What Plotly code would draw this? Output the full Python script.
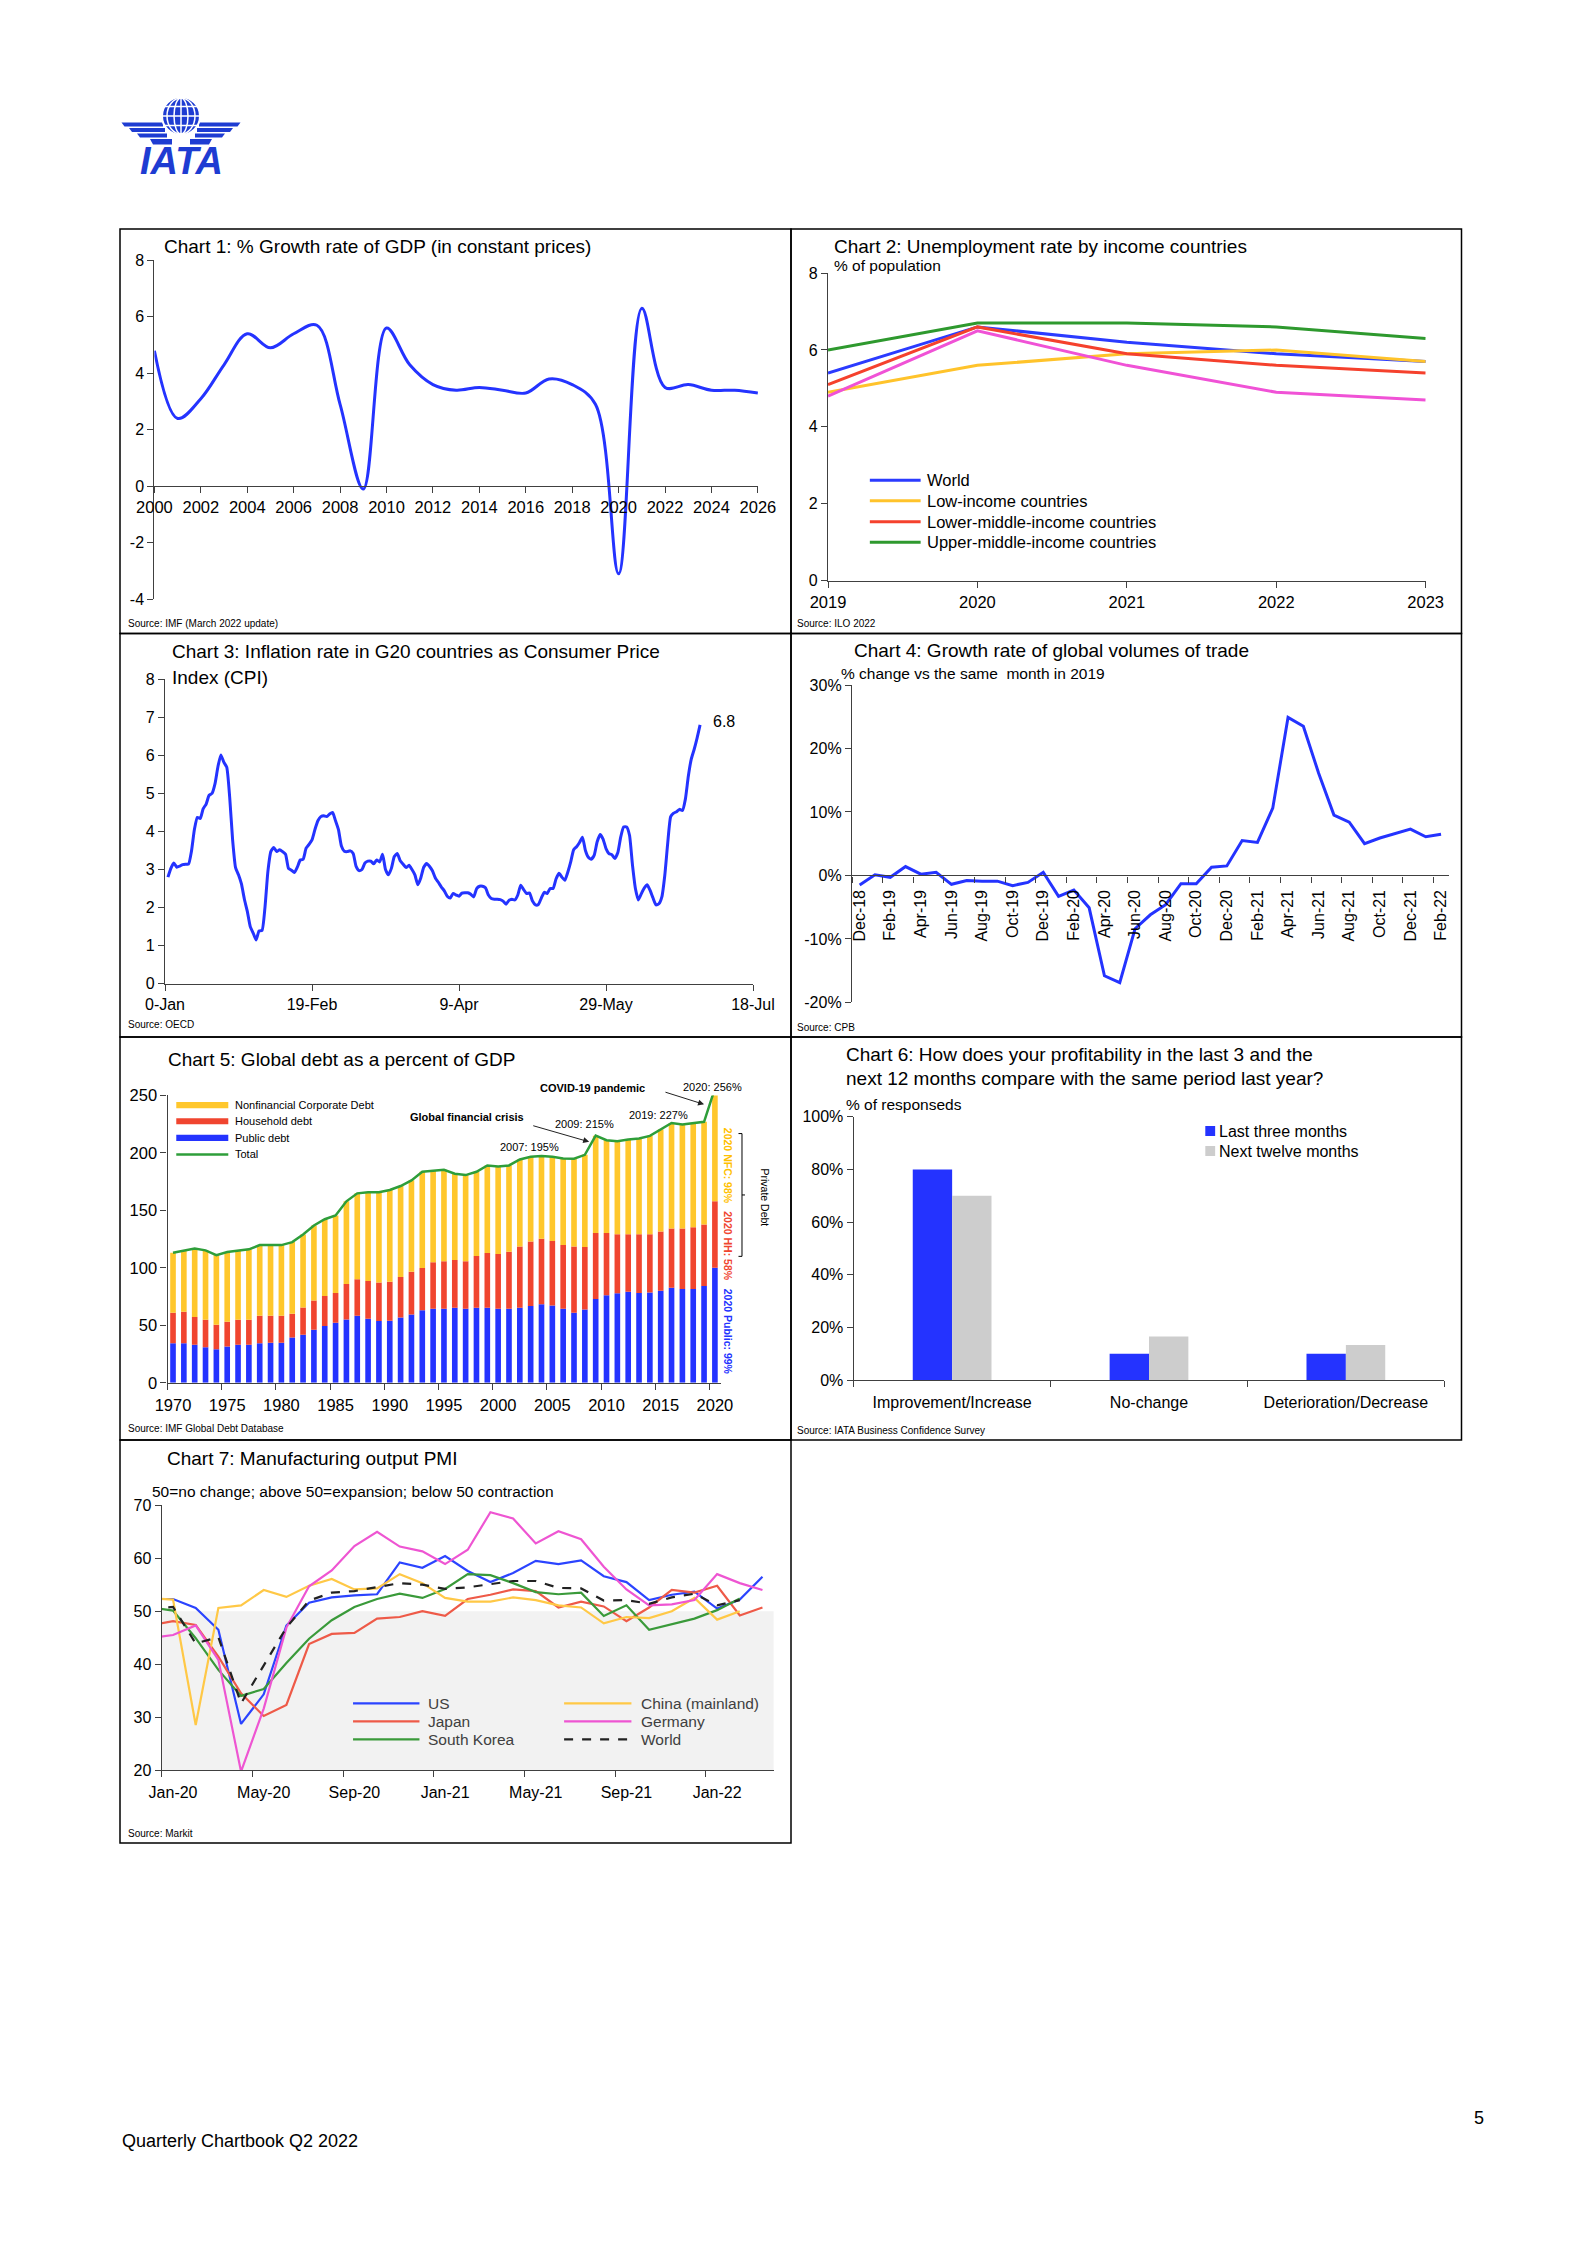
import plotly.graph_objects as go

W, H = 1587, 2245
OFF = 8  # default body margin of the html page
FW, FH = W - 2 * OFF, H - 2 * OFF
FONT = "Liberation Sans, Arial, Helvetica, sans-serif"
BLUE = "#2433FF"
LOGO_BLUE = "#1E3CD2"
AXC = "#404040"

# ---------------- data ----------------
gdp_years = list(range(2000, 2027))
gdp_growth = [4.8, 2.4, 3.1, 4.3, 5.4, 4.9, 5.4, 5.7, 2.9, -0.1, 5.6, 4.3, 3.6, 3.4, 3.5,
              3.4, 3.3, 3.8, 3.6, 2.9, -3.1, 6.3, 3.5, 3.6, 3.4, 3.4, 3.3]
gdp_tick_years = list(range(2000, 2027, 2))
gdp_y_ticks = [-4, -2, 0, 2, 4, 6, 8]
gdp_y_text = ["-4", "-2", "0", "2", "4", "6", "8"]

unemp_years = [2019, 2020, 2021, 2022, 2023]
unemp_world = [5.4, 6.6, 6.2, 5.9, 5.7]
unemp_low = [4.9, 5.6, 5.9, 6.0, 5.7]
unemp_lower_mid = [5.1, 6.6, 5.9, 5.6, 5.4]
unemp_upper_mid = [6.0, 6.7, 6.7, 6.6, 6.3]
unemp_high = [4.8, 6.5, 5.6, 4.9, 4.7]

cpi_values = [
    2.80, 3.03, 3.17, 3.06, 3.09, 3.13, 3.14, 3.14, 3.48, 4.05,
    4.37, 4.34, 4.60, 4.72, 4.95, 5.00, 5.25, 5.70, 6.01, 5.82,
    5.69, 4.90, 3.78, 3.05, 2.86, 2.62, 2.22, 1.90, 1.50, 1.33,
    1.15, 1.39, 1.40, 2.00, 2.95, 3.47, 3.58, 3.47, 3.52, 3.47,
    3.40, 3.03, 2.98, 2.92, 3.06, 3.25, 3.27, 3.56, 3.66, 3.78,
    4.05, 4.28, 4.39, 4.41, 4.39, 4.46, 4.50, 4.28, 4.05, 3.62,
    3.48, 3.47, 3.49, 3.42, 3.08, 2.97, 3.00, 3.17, 3.22, 3.22,
    3.15, 3.25, 3.20, 3.40, 3.00, 2.86, 3.03, 3.34, 3.42, 3.23,
    3.14, 3.05, 3.11, 3.00, 2.86, 2.60, 2.78, 3.06, 3.16, 3.08,
    2.96, 2.77, 2.66, 2.54, 2.44, 2.30, 2.25, 2.37, 2.33, 2.30,
    2.38, 2.39, 2.39, 2.35, 2.28, 2.50, 2.56, 2.56, 2.52, 2.33,
    2.24, 2.22, 2.22, 2.21, 2.17, 2.09, 2.19, 2.22, 2.20, 2.33,
    2.59, 2.47, 2.37, 2.38, 2.17, 2.07, 2.08, 2.25, 2.40, 2.37,
    2.50, 2.50, 2.75, 2.90, 2.80, 2.72, 2.93, 3.20, 3.52, 3.60,
    3.71, 3.85, 3.50, 3.32, 3.27, 3.38, 3.73, 3.92, 3.80, 3.55,
    3.42, 3.39, 3.29, 3.44, 3.85, 4.12, 4.12, 3.90, 3.12, 2.50,
    2.20, 2.36, 2.51, 2.60, 2.45, 2.25, 2.07, 2.10, 2.28, 2.85,
    3.70, 4.39, 4.48, 4.52, 4.58, 4.55, 4.85, 5.45, 5.90, 6.16,
    6.46, 6.80]
cpi_tick_vals = [0, 50, 100, 150, 200]
cpi_tick_text = ["0-Jan", "19-Feb", "9-Apr", "29-May", "18-Jul"]

trade_months = ["Dec-18", "Jan-19", "Feb-19", "Mar-19", "Apr-19", "May-19", "Jun-19", "Jul-19",
                "Aug-19", "Sep-19", "Oct-19", "Nov-19", "Dec-19", "Jan-20", "Feb-20", "Mar-20",
                "Apr-20", "May-20", "Jun-20", "Jul-20", "Aug-20", "Sep-20", "Oct-20", "Nov-20",
                "Dec-20", "Jan-21", "Feb-21", "Mar-21", "Apr-21", "May-21", "Jun-21", "Jul-21",
                "Aug-21", "Sep-21", "Oct-21", "Nov-21", "Dec-21", "Jan-22", "Feb-22"]
trade_growth = [-1.5, 0.1, -0.3, 1.4, 0.2, 0.5, -1.4, -0.8, -0.9, -0.9, -1.6, -1.1, 0.5,
                -3.3, -2.3, -5.1, -15.8, -16.9, -8.4, -6.2, -4.6, -1.3, -1.3, 1.3, 1.5,
                5.5, 5.2, 10.6, 24.9, 23.5, 16.1, 9.5, 8.4, 5.0, 5.9, 6.6, 7.3, 6.1, 6.5]
trade_y_ticks = [-20, -10, 0, 10, 20, 30]
trade_y_text = ["-20%", "-10%", "0%", "10%", "20%", "30%"]

debt_years = list(range(1970, 2021))
public_debt = [34.4, 34.4, 33.2, 30.9, 29.2, 31.5, 33.2, 33.2, 34.4, 34.9,
               34.9, 39.3, 41.9, 46.2, 49.4, 52.3, 55.1, 58.3, 55.7, 53.7,
               54.0, 56.9, 59.5, 63.2, 64.4, 64.4, 65.2, 64.4, 65.2, 65.2,
               64.4, 64.4, 65.2, 66.7, 68.4, 67.3, 64.4, 60.9, 63.8, 73.0,
               76.2, 77.9, 79.1, 78.2, 78.5, 80.0, 82.6, 81.7, 81.7, 84.3, 100.0]
household_debt = [26.5, 27.4, 24.0, 23.9, 21.3, 21.6, 21.6, 21.6, 23.9, 23.4,
                  23.4, 20.7, 23.6, 25.4, 26.2, 25.9, 30.9, 31.8, 32.9, 33.5,
                  34.0, 35.2, 37.2, 36.7, 40.4, 41.3, 41.6, 41.3, 45.1, 47.7,
                  47.6, 49.6, 53.4, 56.3, 56.9, 56.0, 55.4, 57.7, 54.3, 57.2,
                  54.0, 51.4, 50.2, 51.1, 50.8, 51.6, 51.6, 52.5, 53.7, 53.4, 58.0]
corporate_debt = [52.3, 53.4, 59.7, 60.4, 60.6, 60.6, 60.1, 61.3, 61.5, 61.5,
                  61.5, 62.4, 63.5, 65.2, 66.7, 67.3, 71.9, 74.7, 77.1, 78.5,
                  79.7, 79.1, 79.4, 83.7, 79.4, 79.6, 75.1, 75.0, 73.3, 76.2,
                  76.2, 75.1, 75.7, 73.6, 71.9, 73.3, 75.4, 76.4, 80.2, 84.8,
                  80.8, 80.9, 82.3, 83.2, 85.5, 88.7, 91.8, 90.4, 90.1, 89.3, 98.0]
debt_tick_years = list(range(1970, 2021, 5))

profit_categories = ["Improvement/Increase", "No-change", "Deterioration/Decrease"]
profit_last3 = [80, 10, 10]
profit_next12 = [70, 16.5, 13.3]
profit_y_ticks = [0, 20, 40, 60, 80, 100]
profit_y_text = ["0%", "20%", "40%", "60%", "80%", "100%"]

pmi_months = ["Dec-19", "Jan-20", "Feb-20", "Mar-20", "Apr-20", "May-20", "Jun-20", "Jul-20",
              "Aug-20", "Sep-20", "Oct-20", "Nov-20", "Dec-20", "Jan-21", "Feb-21", "Mar-21",
              "Apr-21", "May-21", "Jun-21", "Jul-21", "Aug-21", "Sep-21", "Oct-21", "Nov-21",
              "Dec-21", "Jan-22", "Feb-22", "Mar-22"]
pmi_us = [52.3, 52.3, 50.6, 46.5, 28.7, 34.3, 47.3, 51.6, 52.6, 53.0, 53.2, 59.2, 58.2,
          60.4, 57.6, 55.5, 57.2, 59.5, 58.9, 59.6, 56.6, 55.5, 52.1, 53.1, 53.7, 50.5, 52.2, 56.5]
pmi_china = [52.4, 52.2, 28.5, 50.6, 51.1, 54.0, 52.7, 54.8, 56.1, 54.1, 54.3, 57.0, 55.3,
             52.5, 51.8, 51.8, 52.6, 52.1, 51.1, 50.7, 47.7, 48.9, 48.7, 50.0, 52.5, 48.4, 50.0, None]
pmi_japan = [47.3, 48.1, 47.4, 41.4, 34.5, 30.2, 32.3, 43.8, 45.7, 45.9, 48.6, 48.9, 50.0,
             49.1, 52.3, 53.1, 54.1, 53.8, 50.7, 51.8, 50.9, 48.1, 50.7, 54.0, 53.5, 54.8, 49.2, 50.7]
pmi_germany = [44.9, 45.5, 47.3, 40.8, 19.7, 31.6, 46.9, 54.7, 57.7, 62.3, 65.0, 62.2, 61.3,
               58.9, 61.6, 68.7, 67.5, 62.8, 65.1, 63.6, 58.4, 54.1, 51.1, 51.3, 52.1, 57.0, 55.3, 54.0]
pmi_korea = [50.7, 50.1, 44.9, 38.9, 34.0, 35.3, 40.2, 44.8, 48.3, 50.8, 52.3, 53.3, 52.5,
             54.2, 57.0, 56.8, 55.3, 53.6, 53.2, 53.5, 49.1, 51.1, 46.5, 47.5, 48.6, 50.2, 52.4, None]
pmi_world = [50.4, 50.8, 43.9, 45.1, 32.6, 39.8, 46.9, 52.0, 53.5, 53.8, 54.5, 55.3, 55.0,
             54.2, 54.5, 55.1, 55.7, 55.7, 54.4, 54.3, 52.0, 52.1, 51.4, 52.6, 53.3, 51.1, 52.1, None]
pmi_tick_labels = ["Jan-20", "May-20", "Sep-20", "Jan-21", "May-21", "Sep-21", "Jan-22"]
pmi_neutral = 50

# ---------------- helpers ----------------
def X(px):
    return (px - OFF) / FW


def Y(py):
    return 1 - (py - OFF) / FH


def axis(domain, rng, **kw):
    d = dict(domain=domain, range=rng, showgrid=False, zeroline=False, showline=True,
             linecolor=AXC, linewidth=1.3, ticks="outside", ticklen=6, tickwidth=1.3,
             tickcolor=AXC, tickfont=dict(size=16, color="black", family=FONT),
             fixedrange=True, tickmode="array")
    d.update(kw)
    return d


def minor(vals):
    return dict(tickmode="array", tickvals=vals, ticks="outside", ticklen=6,
                tickwidth=1.3, tickcolor=AXC, showgrid=False)


HIDDEN_TICK = "rgba(0,0,0,0)"
annotations = []
shapes = []


def txt(s, x, y, size=16, xanchor="left", yanchor="middle", color="black",
        xref="paper", yref="paper", angle=0):
    if xref == "paper":
        x = X(x)
    if yref == "paper":
        y = Y(y)
    annotations.append(dict(text=s, x=x, y=y, xref=xref, yref=yref, xanchor=xanchor,
                            yanchor=yanchor, showarrow=False, textangle=angle,
                            font=dict(size=size, color=color, family=FONT)))


def pline(x0, y0, x1, y1, color="black", width=1.5):
    shapes.append(dict(type="line", xref="paper", yref="paper", x0=X(x0), y0=Y(y0),
                       x1=X(x1), y1=Y(y1), line=dict(color=color, width=width)))


fig = go.Figure()

# ---------------- Chart 1 ----------------
fig.add_trace(go.Scatter(x=gdp_years, y=gdp_growth, mode="lines", xaxis="x", yaxis="y",
                         line=dict(color=BLUE, width=3, shape="spline", smoothing=1.0),
                         showlegend=False, hoverinfo="skip"))

# ---------------- Chart 2 ----------------
unemp_series = [
    ("World", unemp_world, "#2B3BFF"),
    ("Low-income countries", unemp_low, "#FFC32B"),
    ("Lower-middle-income countries", unemp_lower_mid, "#F5412D"),
    ("Upper-middle-income countries", unemp_upper_mid, "#2E992E"),
    ("High-income countries", unemp_high, "#F052D6"),
]
for name, vals, col in unemp_series:
    fig.add_trace(go.Scatter(x=unemp_years, y=vals, mode="lines", name=name, xaxis="x2",
                             yaxis="y2", line=dict(color=col, width=3), showlegend=False,
                             hoverinfo="skip"))

# ---------------- Chart 3 ----------------
cpi_days = list(range(1, len(cpi_values) + 1))
fig.add_trace(go.Scatter(x=cpi_days, y=cpi_values, mode="lines", xaxis="x3", yaxis="y3",
                         line=dict(color=BLUE, width=3, shape="spline", smoothing=0.5),
                         showlegend=False, hoverinfo="skip"))

# ---------------- Chart 4 ----------------
trade_idx = list(range(len(trade_months)))
fig.add_trace(go.Scatter(x=trade_idx, y=trade_growth, mode="lines", xaxis="x4", yaxis="y4",
                         line=dict(color=BLUE, width=3), showlegend=False, hoverinfo="skip"))

# ---------------- Chart 5 ----------------
hh_base = list(public_debt)
corp_base = [p + h for p, h in zip(public_debt, household_debt)]
total_debt = [p + h + c for p, h, c in zip(public_debt, household_debt, corporate_debt)]
for vals, base, col in [(public_debt, [0] * len(public_debt), BLUE),
                        (household_debt, hh_base, "#F0452F"),
                        (corporate_debt, corp_base, "#FFC72C")]:
    fig.add_trace(go.Bar(x=debt_years, y=vals, base=base, width=0.52, offset=-0.26,
                         marker=dict(color=col, line=dict(width=0)), xaxis="x5", yaxis="y5",
                         showlegend=False, hoverinfo="skip"))
fig.add_trace(go.Scatter(x=debt_years, y=total_debt, mode="lines", xaxis="x5", yaxis="y5",
                         line=dict(color="#2E9E3A", width=2.5), showlegend=False,
                         hoverinfo="skip"))

# ---------------- Chart 6 ----------------
cat_pos = list(range(len(profit_categories)))
fig.add_trace(go.Bar(x=cat_pos, y=profit_last3, width=0.2, offset=-0.2, xaxis="x6", yaxis="y6",
                     marker=dict(color=BLUE, line=dict(width=0)), showlegend=False,
                     hoverinfo="skip"))
fig.add_trace(go.Bar(x=cat_pos, y=profit_next12, width=0.2, offset=0.0, xaxis="x6", yaxis="y6",
                     marker=dict(color="#CDCDCD", line=dict(width=0)), showlegend=False,
                     hoverinfo="skip"))

# ---------------- Chart 7 ----------------
pmi_x = list(range(-1, len(pmi_months) - 1))
pmi_series = [
    ("US", pmi_us, "#2B44FF", "solid"),
    ("Japan", pmi_japan, "#EE5A48", "solid"),
    ("South Korea", pmi_korea, "#3A9A3A", "solid"),
    ("China (mainland)", pmi_china, "#FFC846", "solid"),
    ("Germany", pmi_germany, "#EE55D2", "solid"),
    ("World", pmi_world, "#222222", "dash"),
]
for name, vals, col, dash in pmi_series:
    fig.add_trace(go.Scatter(x=pmi_x, y=vals, mode="lines", name=name, xaxis="x7", yaxis="y7",
                             line=dict(color=col, width=2.2, dash=dash), showlegend=False,
                             hoverinfo="skip", connectgaps=False))
pmi_tick_pos = [pmi_months.index(m) - 1 for m in pmi_tick_labels]

# ---------------- axes ----------------
c1_top, c1_bot = 260.3, 599.2
c1_zero = c1_top + (8 - 0) / 12 * (c1_bot - c1_top)
c4_top, c4_bot = 685.0, 1002.4
c4_zero = c4_top + 30 / 50 * (c4_bot - c4_top)

layout_axes = dict(
    xaxis=axis([X(154.4), X(757.9)], [2000, 2026], tickvals=gdp_tick_years,
               tickfont=dict(size=16.5, color="black", family=FONT),
               anchor="free", position=Y(c1_zero)),
    yaxis=axis([Y(c1_bot), Y(c1_top)], [-4, 8], tickvals=gdp_y_ticks, ticktext=gdp_y_text,
               anchor="x"),
    xaxis2=axis([X(828), X(1425.7)], [2019, 2023], tickvals=unemp_years,
                tickfont=dict(size=16.5, color="black", family=FONT), anchor="y2"),
    yaxis2=axis([Y(580.6), Y(273.1)], [0, 8], tickvals=[0, 2, 4, 6, 8], anchor="x2"),
    xaxis3=axis([X(165), X(753)], [0, 200], tickvals=cpi_tick_vals, ticktext=cpi_tick_text,
                anchor="y3"),
    yaxis3=axis([Y(983.7), Y(679.2)], [0, 8], tickvals=list(range(0, 9)), anchor="x3"),
    xaxis4=axis([X(852), X(1448.7)], [-0.5, len(trade_months) - 0.5],
                tickvals=trade_idx[::2], ticktext=trade_months[::2], tickcolor=HIDDEN_TICK,
                tickangle=-90, ticklen=7,
                minor=minor([i - 0.5 for i in range(0, len(trade_months) + 1, 2)]),
                anchor="free", position=Y(c4_zero)),
    yaxis4=axis([Y(c4_bot), Y(c4_top)], [-20, 30], tickvals=trade_y_ticks,
                ticktext=trade_y_text, anchor="x4"),
    xaxis5=axis([X(167.6), X(721.4)], [1969.5, 2020.6], tickvals=debt_tick_years,
                tickcolor=HIDDEN_TICK, ticklen=7,
                tickfont=dict(size=16.5, color="black", family=FONT),
                minor=minor([y - 0.5 for y in debt_tick_years]), anchor="y5"),
    yaxis5=axis([Y(1382.8), Y(1095.4)], [0, 250], tickvals=[0, 50, 100, 150, 200, 250],
                tickfont=dict(size=16.5, color="black", family=FONT), anchor="x5"),
    xaxis6=axis([X(853.7), X(1444.3)], [-0.5, 2.5], tickvals=cat_pos,
                ticktext=profit_categories, tickcolor=HIDDEN_TICK, ticklen=8,
                minor=minor([-0.5, 0.5, 1.5, 2.5]), anchor="y6"),
    yaxis6=axis([Y(1380), Y(1116.8)], [0, 100], tickvals=profit_y_ticks,
                ticktext=profit_y_text, anchor="x6"),
    xaxis7=axis([X(161.7), X(773.8)], [-0.5, len(pmi_months) - 1.5], tickvals=pmi_tick_pos,
                ticktext=pmi_tick_labels, tickcolor=HIDDEN_TICK, ticklen=8,
                minor=minor([p - 0.5 for p in pmi_tick_pos]), anchor="y7"),
    yaxis7=axis([Y(1770), Y(1505.3)], [20, 70], tickvals=[20, 30, 40, 50, 60, 70],
                anchor="x7"),
)

# ---------------- cell borders ----------------
xs = [120, 791, 1461.5]
ys = [229, 633.5, 1037, 1440, 1843]
for r in range(4):
    cols = 2 if r < 3 else 1
    for c in range(cols):
        shapes.append(dict(type="rect", xref="paper", yref="paper", x0=X(xs[c]), x1=X(xs[c + 1]),
                           y0=Y(ys[r]), y1=Y(ys[r + 1]), line=dict(color="black", width=1.5),
                           fillcolor="rgba(0,0,0,0)"))

# ---------------- logo ----------------
gx, gy, gr = 181, 116, 19
stripes = [(121.5, 163, 122.5, 126.5), (129, 165, 128, 132),
           (137, 167, 133.5, 137.5), (150, 172, 139, 144.5)]
for (xl, xr, yt, yb) in stripes:
    for side in (1, -1):
        if side == 1:
            pts = [(xl, yt), (xr, yt), (xr, yb), (xl + 3, yb)]
        else:
            pts = [(2 * gx - xl, yt), (2 * gx - xr, yt), (2 * gx - xr, yb), (2 * gx - xl - 3, yb)]
        path = "M " + " L ".join(f"{X(a):.5f},{Y(b):.5f}" for a, b in pts) + " Z"
        shapes.append(dict(type="path", xref="paper", yref="paper", path=path,
                           fillcolor=LOGO_BLUE, line=dict(width=0)))
shapes.append(dict(type="circle", xref="paper", yref="paper", x0=X(gx - gr), x1=X(gx + gr),
                   y0=Y(gy - gr), y1=Y(gy + gr), fillcolor=LOGO_BLUE,
                   line=dict(color="white", width=2)))
for rx in (7, 14):
    shapes.append(dict(type="circle", xref="paper", yref="paper", x0=X(gx - rx), x1=X(gx + rx),
                       y0=Y(gy - gr + 1), y1=Y(gy + gr - 1), fillcolor="rgba(0,0,0,0)",
                       line=dict(color="white", width=1.5)))
pline(gx, gy - gr + 1, gx, gy + gr - 1, "white", 1.5)
for dy, hw in ((0, 18.5), (-9.5, 16), (9.5, 16)):
    pline(gx - hw, gy + dy, gx + hw, gy + dy, "white", 1.5)
annotations.append(dict(text="<b><i>IATA</i></b>", x=X(181), y=Y(161), xref="paper",
                        yref="paper", xanchor="center", yanchor="middle", showarrow=False,
                        font=dict(size=38, color=LOGO_BLUE, family=FONT)))

# ---------------- titles / sources ----------------
TS = 19
txt("Chart 1: % Growth rate of GDP (in constant prices)", 161.6, 246, TS)
txt("Source: IMF (March 2022 update)", 125.8, 623.5, 10)

txt("Chart 2: Unemployment rate by income countries", 832.3, 246, TS)
txt("% of population", 832.3, 266, 15.5)
txt("Source: ILO 2022", 795, 623.5, 10)

txt("Chart 3: Inflation rate in G20 countries as Consumer Price", 170.2, 652, TS)
txt("Index (CPI)", 170.2, 678, TS)
txt("6.8", 190, 6.9, 16, xanchor="center", xref="x3", yref="y3")
txt("Source: OECD", 125.8, 1024, 10)

txt("Chart 4: Growth rate of global volumes of trade", 852.3, 650.7, TS)
txt("% change vs the same  month in 2019", 839.4, 673.5, 15.5)
txt("Source: CPB", 795, 1027, 10)

txt("Chart 5: Global debt as a percent of GDP", 166, 1059.6, TS)
txt("Source: IMF Global Debt Database", 125.8, 1428.6, 10)

txt("Chart 6: How does your profitability in the last 3 and the", 843.7, 1054, TS)
txt("next 12 months compare with the same period last year?", 843.7, 1078, TS)
txt("% of responseds", 843.7, 1104, 15.5)
txt("Source: IATA Business Confidence Survey", 795, 1430, 10)

txt("Chart 7: Manufacturing output PMI", 164.5, 1458.6, TS)
txt("50=no change; above 50=expansion; below 50 contraction", 150, 1491.5, 15.5)
txt("Source: Markit", 125.8, 1833, 10)

txt("Quarterly Chartbook Q2 2022", 120, 2141, 18)
txt("5", 1478.6, 2118, 18, xanchor="center")

# ---------------- chart 2 legend ----------------
for (name, vals, col), yv in zip(unemp_series[:4], [2.61, 2.08, 1.53, 1.00]):
    shapes.append(dict(type="line", xref="x2", yref="y2", x0=2019.28, x1=2019.62, y0=yv, y1=yv,
                       line=dict(color=col, width=3)))
    txt(name, 2019.65, yv, 16.5, xref="x2", yref="y2")


# ---------------- chart 5 legend & notes ----------------
def c5x(year):
    return 167.6 + (year - 1969.5) * (721.4 - 167.6) / (2020.6 - 1969.5)


def c5y(v):
    return 1382.8 - v * (1382.8 - 1095.4) / 250


for label, col, yv in [("Nonfinancial Corporate Debt", "#FFC72C", 241.6),
                       ("Household debt", "#F0452F", 227.5),
                       ("Public debt", BLUE, 213.0)]:
    shapes.append(dict(type="rect", xref="x5", yref="y5", x0=1970.3, x1=1975.1,
                       y0=yv - 2.7, y1=yv + 2.7, fillcolor=col, line=dict(width=0)))
    txt(label, 1975.5, yv, 11, xref="x5", yref="y5")
shapes.append(dict(type="line", xref="x5", yref="y5", x0=1970.3, x1=1975.1, y0=198.6, y1=198.6,
                   line=dict(color="#2E9E3A", width=2.5)))
txt("Total", 1975.5, 198.6, 11, xref="x5", yref="y5")

notes5 = [("<b>COVID-19 pandemic</b>", 2008.7, 256.6, "black", 0),
          ("2020: 256%", 2019.8, 257.2, "black", 0),
          ("<b>Global financial crisis</b>", 1997.1, 231.5, "black", 0),
          ("2009: 215%", 2008.0, 225.5, "black", 0),
          ("2019: 227%", 2014.8, 233.0, "black", 0),
          ("2007: 195%", 2002.9, 205.3, "black", 0),
          ("<b>2020 NFC: 98%</b>", 2021.2, 188.8, "#FFC000", 90),
          ("<b>2020 HH: 58%</b>", 2021.2, 118.9, "#F0452F", 90),
          ("<b>2020 Public: 99%</b>", 2021.2, 44.5, BLUE, 90)]
for s, yr, v, col, ang in notes5:
    txt(s, c5x(yr), c5y(v), 11 if ang == 0 else 10.5, xanchor="center", color=col, angle=ang)
for (hx, hy, tx, ty) in [(2019.0, 242.2, 2015.3, 253.2), (2008.4, 209.6, 2003.1, 224.0)]:
    annotations.append(dict(text="", x=hx, y=hy, ax=tx, ay=ty, xref="x5", yref="y5",
                            axref="x5", ayref="y5", showarrow=True, arrowhead=2, arrowsize=1.2,
                            arrowwidth=1, arrowcolor="#222222"))

bx = c5x(2022.5)
pline(bx, c5y(216.8), bx, c5y(110.0), "black", 1)
pline(bx - 3.5, c5y(216.8), bx, c5y(216.8), "black", 1)
pline(bx - 3.5, c5y(110.0), bx, c5y(110.0), "black", 1)
pline(bx, c5y(163.4), bx + 3, c5y(163.4), "black", 1)
txt("Private Debt", c5x(2024.6), c5y(161.4), 10.5, xanchor="center", angle=90)

# ---------------- chart 6 legend ----------------
for label, col, yv in [("Last three months", BLUE, 94.6), ("Next twelve months", "#CDCDCD", 87.0)]:
    shapes.append(dict(type="rect", xref="x6", yref="y6", x0=1.286, x1=1.336,
                       y0=yv - 1.9, y1=yv + 1.9, fillcolor=col, line=dict(width=0)))
    txt(label, 1.347, yv, 16, xref="x6", yref="y6")

# ---------------- chart 7 band & legend ----------------
shapes.append(dict(type="rect", xref="x7", yref="y7", x0=-0.5, x1=len(pmi_months) - 1.5,
                   y0=20, y1=pmi_neutral, fillcolor="#F2F2F2", line=dict(width=0),
                   layer="below"))
leg_pos = [(0, 32.6), (0, 29.2), (0, 25.8), (1, 32.6), (1, 29.2), (1, 25.8)]
for (name, vals, col, dash), (colidx, yv) in zip(pmi_series, leg_pos):
    x0, x1, xt = (7.94, 10.87, 11.18) if colidx == 0 else (17.25, 20.22, 20.55)
    shapes.append(dict(type="line", xref="x7", yref="y7", x0=x0, x1=x1, y0=yv, y1=yv,
                       line=dict(color=col, width=2.2, dash=dash)))
    txt(name, xt, yv, 15.5, color="#404040", xref="x7", yref="y7")

fig.update_layout(
    template="none",
    width=FW, height=FH,
    margin=dict(l=0, r=0, t=0, b=0),
    paper_bgcolor="white",
    plot_bgcolor="rgba(0,0,0,0)",
    showlegend=False,
    hovermode=False,
    font=dict(family=FONT, color="black"),
    barmode="overlay",
    annotations=annotations,
    shapes=shapes,
    **layout_axes,
)

fig.write_html("out.html")
